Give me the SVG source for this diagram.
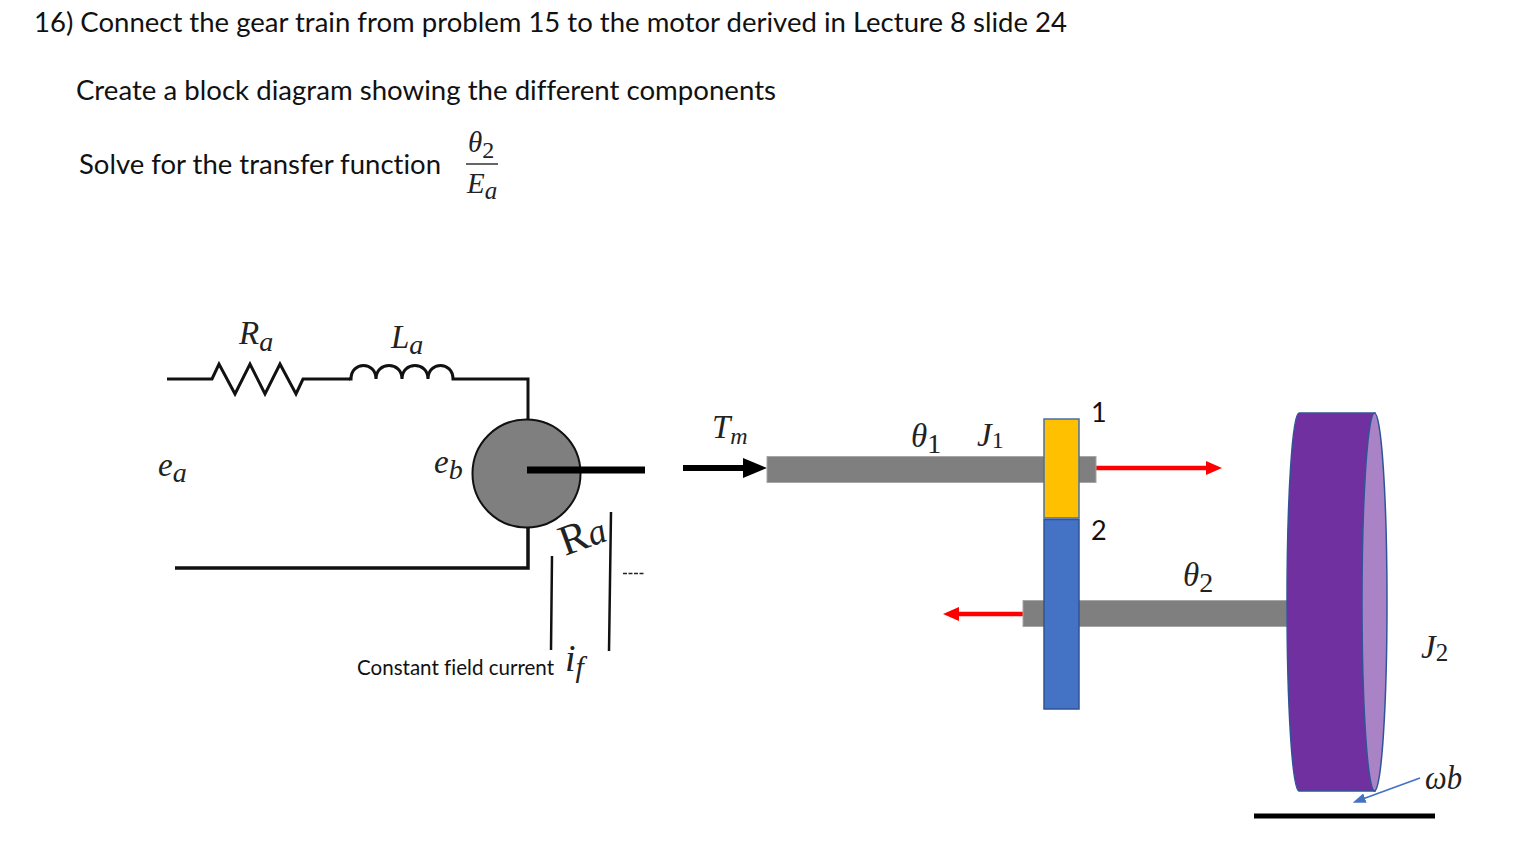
<svg xmlns="http://www.w3.org/2000/svg" width="1529" height="857" viewBox="0 0 1529 857">
<style>
.t{font-family:"Lato","Open Sans",sans-serif;fill:#111;font-size:27px;font-variant-ligatures:none}
.m{font-family:"Liberation Serif",serif;font-style:italic;fill:#222;font-size:33px}
.s{font-size:28px}
.n{font-style:normal}
.w{fill:none;stroke:#111;stroke-width:3}
.shaft{fill:#7f7f7f;stroke:#a6a6a6;stroke-width:1}
</style>
<defs>
<marker id="red" markerUnits="userSpaceOnUse" markerWidth="16" markerHeight="16" refX="0" refY="8" orient="auto"><path d="M0,1L16,8L0,15z" fill="#f00"/></marker>
<marker id="blk" markerUnits="userSpaceOnUse" markerWidth="24" markerHeight="20" refX="0" refY="10" orient="auto"><path d="M0,0L24,10L0,20z" fill="#000"/></marker>
<marker id="blu" markerUnits="userSpaceOnUse" markerWidth="13" markerHeight="10" refX="1" refY="5" orient="auto"><path d="M0,0L13,5L0,10z" fill="#4472c4"/></marker>
</defs>
<rect width="1529" height="857" fill="#fff"/>
<g id="problem-text">
<text class="t" x="34" y="31.500" textLength="1033" lengthAdjust="spacingAndGlyphs">16) Connect the gear train from problem 15 to the motor derived in Lecture 8 slide 24</text>
<text class="t" x="76" y="99.500" textLength="700" lengthAdjust="spacingAndGlyphs">Create a block diagram showing the different components</text>
<text class="t" x="79" y="173.500" textLength="362" lengthAdjust="spacingAndGlyphs">Solve for the transfer function</text>
</g>
<g id="fraction">
<text class="m" x="468" y="152" style="font-size:29px">θ<tspan class="n" dy="6" style="font-size:24px">2</tspan></text>
<line x1="466" y1="164" x2="498" y2="164" stroke="#333" stroke-width="1.5"/>
<text class="m" x="467" y="193" style="font-size:29px">E<tspan dy="6" style="font-size:25px">a</tspan></text>
</g>
<g id="connectors">
<path class="w" d="M167,379H212L219,364L235,394L250,364L265,394L280,364L296,394L303,379H350"/>
<path class="w" d="M349,379H351C351,361 376,361 376,379C376,361 402,361 402,379C402,361 428,361 428,379C428,361 453,361 453,379H528V420"/>
<path class="w" style="stroke-width:3.5" d="M528,527V568H175"/>
<path class="w" style="stroke-width:2.5" d="M552,556L551,650M611,512L609,651"/>
<path d="M623,573.500H645" stroke="#222" stroke-width="1.500" stroke-dasharray="4 1.500" fill="none"/>
<path d="M683,468H743" stroke="#000" stroke-width="6" fill="none" marker-end="url(#blk)"/>
<path d="M1096,468H1206" stroke="#f00" stroke-width="4.500" fill="none" marker-end="url(#red)"/>
<path d="M1023,614H959" stroke="#f00" stroke-width="4.500" fill="none" marker-end="url(#red)"/>
<path d="M1420,778L1364,798.500" stroke="#4472c4" stroke-width="1.800" fill="none" marker-end="url(#blu)"/>
</g>
<g id="motor">
<circle cx="526.500" cy="473.500" r="54" fill="#7f7f7f" stroke="#111" stroke-width="2"/>
<rect x="527" y="466.500" width="118" height="7" fill="#000"/>
</g>
<g id="shafts">
<rect class="shaft" x="767" y="456.500" width="329" height="26"/>
<rect class="shaft" x="1023" y="600.500" width="264" height="26"/>
</g>
<g id="gear-1"><rect x="1044" y="419" width="35" height="99" fill="#ffc000" stroke="#4a6fa8" stroke-width="1.500"/></g>
<g id="gear-2"><rect x="1044" y="519.500" width="35" height="189.500" fill="#4472c4" stroke="#2f5597" stroke-width="1.500"/></g>
<g id="flywheel">
<path d="M1299,413H1375V791H1299A12,189 0 0 1 1299,413Z" fill="#7030a0" stroke="#2f5597" stroke-width="1.500"/>
<ellipse cx="1374.500" cy="602" rx="12.500" ry="189" fill="#a983c6" stroke="#2f5597" stroke-width="1.500"/>
</g>
<g id="ground"><rect x="1254" y="813.500" width="181" height="5" fill="#000"/></g>
<g id="labels">
<text class="m" x="239" y="344">R<tspan class="s" dy="7">a</tspan></text>
<text class="m" x="391" y="348">L<tspan class="s" dy="6">a</tspan></text>
<text class="m" x="158" y="476">e<tspan class="s" dy="6">a</tspan></text>
<text class="m" x="434" y="473">e<tspan class="s" dy="6">b</tspan></text>
<text class="m" x="712" y="438">T<tspan dy="6" style="font-size:24px">m</tspan></text>
<text class="m" x="911" y="447">θ<tspan class="n s" dy="6">1</tspan></text>
<text class="m" x="977" y="446">J<tspan class="n" dy="2" style="font-size:24px">1</tspan></text>
<text class="m" x="1183" y="586">θ<tspan class="n s" dy="6">2</tspan></text>
<text class="m" x="1421" y="658">J<tspan class="n" dy="3" style="font-size:25px">2</tspan></text>
<text class="m" x="1425" y="789" textLength="37" lengthAdjust="spacingAndGlyphs">ωb</text>
<text class="m" x="565" y="671" style="font-size:38px">i<tspan dy="6" style="font-size:30px">f</tspan></text>
<text class="m" transform="translate(565,556) rotate(-20)" style="font-size:43px"><tspan class="n">R</tspan><tspan style="font-size:36px">a</tspan></text>
<text class="t" x="357" y="675" style="font-size:20.500px" textLength="197" lengthAdjust="spacingAndGlyphs">Constant field current</text>
<text class="t" x="1091" y="422">1</text>
<text class="t" x="1091" y="540">2</text>
</g>
</svg>
